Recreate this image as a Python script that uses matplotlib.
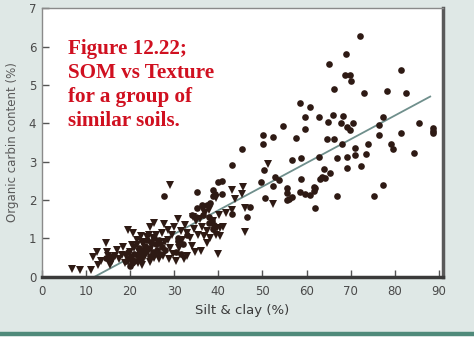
import matplotlib
matplotlib.use("Agg")
import matplotlib.pyplot as plt
from matplotlib.patches import Rectangle
from matplotlib.lines import Line2D

# Circles (finer-textured soils)
circle_x = [72.1, 69.0, 65.0, 68.8, 69.9, 70.1, 66.1, 73.0, 78.3, 81.4, 82.5,
            58.6, 60.7, 54.6, 59.7, 62.9, 59.7, 65.9, 68.2, 64.8, 67.8, 70.5, 69.1, 69.8,
            77.3, 76.5, 85.5, 88.7, 88.7, 88.7, 76.3, 81.4,
            50.2, 52.5, 50.2, 57.6, 64.7, 66.3, 68.0, 45.3, 71.0, 74.0, 79.1, 79.5,
            56.6, 58.7, 62.7, 67.0, 69.1, 71.0, 73.4, 84.3,
            50.4, 69.1, 72.3, 64.0, 65.2, 63.4, 63.1, 64.2, 52.9, 53.8, 49.6, 58.7, 52.5,
            55.6, 55.5, 56.6, 56.1, 55.5, 58.5, 59.6, 60.8, 61.7, 61.7, 61.9,
            50.6, 61.9, 67.0, 75.3, 77.3, 47.2, 46.6, 43.2, 43.0,
            27.7, 35.1, 40.0, 40.8, 38.9, 39.3, 40.8, 38.9, 38.1, 37.4, 36.2, 35.1,
            34.0, 35.0, 36.5, 37.8, 38.5, 39.0, 38.8, 37.9, 33.0, 30.8, 30.9,
            14.5, 15.5, 16.0, 19.0, 19.8, 20.5, 21.0, 21.8, 22.5, 20.0, 23.0, 23.5,
            24.2, 24.8, 25.2, 25.8, 26.2, 26.8, 27.2, 24.5, 22.0, 23.8, 25.5, 26.5,
            28.0, 30.5, 31.5, 32.0, 19.5, 21.0]
circle_y = [6.28, 5.82, 5.54, 5.25, 5.25, 5.11, 4.90, 4.78, 4.85, 5.38, 4.79,
            4.54, 4.42, 3.93, 4.17, 4.17, 3.86, 4.21, 4.19, 4.03, 4.00, 4.01, 3.91, 3.83,
            4.17, 3.97, 4.02, 3.87, 3.80, 3.74, 3.71, 3.76,
            3.70, 3.64, 3.46, 3.61, 3.59, 3.59, 3.45, 3.32, 3.37, 3.45, 3.45, 3.32,
            3.04, 3.09, 3.11, 3.09, 3.13, 3.17, 3.19, 3.23,
            2.78, 2.84, 2.89, 2.80, 2.71, 2.61, 2.54, 2.57, 2.59, 2.52, 2.48, 2.54, 2.37,
            2.31, 2.18, 2.09, 2.03, 2.00, 2.22, 2.15, 2.13, 2.33, 2.24, 2.31,
            2.05, 1.78, 2.10, 2.10, 2.39, 1.83, 1.55, 1.63, 2.91,
            2.10, 2.22, 2.48, 2.50, 2.26, 2.15, 2.17, 2.10, 1.93, 1.87, 1.87, 1.80,
            1.62, 1.55, 1.60, 1.55, 1.45, 1.35, 1.25, 1.40, 1.10, 1.00, 0.92,
            0.50, 0.45, 0.55, 0.40, 0.50, 0.35, 0.60, 0.55, 0.45, 0.28, 0.70, 0.80,
            0.75, 0.90, 0.65, 0.85, 0.70, 0.60, 0.78, 0.55, 0.75, 0.95, 1.00, 0.95,
            0.70, 0.65, 0.60, 0.85, 0.65, 0.42]

# Triangles (coarser-textured soils)
tri_x = [6.8, 8.7, 11.2, 11.7, 12.5, 14.5, 14.7, 12.7, 15.5, 19.6, 20.6, 24.5, 25.5,
         17.0, 18.5, 20.4, 18.1, 18.9, 20.4, 21.9, 23.0, 24.5, 22.7, 23.8, 22.7, 21.5,
         25.3, 26.4, 27.8, 28.7, 29.1, 51.3, 52.5, 45.5, 46.1, 40.0, 37.4, 43.0, 43.0,
         41.8, 43.8, 45.3, 46.1, 39.7, 40.4,
         28.5, 29.5, 30.0, 31.5, 32.5, 33.5, 34.0, 33.0, 31.0, 29.8, 28.8, 30.5, 32.2,
         34.8, 35.5, 36.2, 36.8, 37.5, 38.2, 38.8, 39.5, 40.5, 41.0, 36.0, 35.0, 34.2,
         36.5, 35.8, 37.0, 38.0, 40.2, 39.5, 34.5, 27.5, 26.5, 25.5, 27.0, 28.0, 29.0,
         26.0, 27.2, 23.0, 24.0, 22.0, 21.0, 20.0, 19.0, 17.5, 16.5, 16.0, 13.5, 15.0,
         20.5, 22.3, 23.5, 25.0, 26.0, 21.5, 22.5, 24.3, 31.8, 33.0, 30.8]
tri_y = [0.20, 0.17, 0.17, 0.52, 0.65, 0.87, 0.65, 0.30, 0.30, 1.22, 1.15, 1.30, 1.39,
         0.70, 0.78, 0.83, 0.57, 0.35, 0.39, 0.35, 0.48, 0.39, 0.30, 1.04, 0.91, 0.83,
         1.00, 0.91, 1.37, 1.22, 2.39, 2.94, 1.89, 2.33, 1.17, 0.59, 0.87, 2.26, 1.74,
         1.65, 2.04, 2.17, 1.78, 1.26, 1.26,
         0.95, 1.10, 1.30, 1.20, 1.35, 1.00, 0.80, 0.55, 0.75, 0.60, 0.45, 0.40, 0.45,
         0.65, 1.10, 1.30, 1.05, 1.20, 1.00, 1.45, 1.10, 1.05, 1.30, 0.68, 1.45, 1.55,
         1.75, 1.50, 1.65, 1.75, 1.60, 2.05, 1.25, 0.55, 0.45, 0.50, 0.80, 0.90, 0.75,
         1.10, 1.15, 0.85, 0.65, 0.65, 0.75, 0.65, 0.55, 0.45, 0.55, 0.40, 0.40, 0.55,
         0.50, 0.55, 0.55, 0.80, 0.60, 0.95, 1.05, 1.10, 0.95, 1.15, 1.50]

# Regression line end points
fit_x = [12.0, 88.0]
fit_y = [0.0, 4.7]

x_ticks = [0, 10, 20, 30, 40, 50, 60, 70, 80, 90]
y_ticks = [0, 1, 2, 3, 4, 5, 6, 7]

title_text = "Figure 12.22;\nSOM vs Texture\nfor a group of\nsimilar soils."

bg = "#dfe8e6"
fig = plt.figure(figsize=(4.74, 3.55), dpi=100, facecolor=bg)

# white band at the bottom with teal rule
fig.patches.append(Rectangle((0, 0), 1, 19 / 355, transform=fig.transFigure,
                             facecolor="white", edgecolor="none", zorder=0))
fig.lines.append(Line2D([0, 1], [21.5 / 355, 21.5 / 355], transform=fig.transFigure,
                        color="#4f8a7a", linewidth=3.2, zorder=1))

ax = fig.add_axes([41.7 / 474, 78.3 / 355, (443 - 41.7) / 474, (276.7 - 8.4) / 355])
ax.set_facecolor("white")
ax.set_xlim(0, 90.9)
ax.set_ylim(0, 7)

mcol = "#2e1a14"
ax.plot(fit_x, fit_y, color="#6f8f8c", linewidth=1.3, zorder=2)
ax.plot(tri_x, tri_y, linestyle="none", marker="v", markersize=5.4,
        color=mcol, markeredgewidth=0, zorder=3)
ax.plot(circle_x, circle_y, linestyle="none", marker="o", markersize=4.8,
        color=mcol, markeredgewidth=0, zorder=3)

ax.set_xticks(x_ticks)
ax.set_yticks(y_ticks)
tc = "#4a4a4a"
ax.tick_params(direction="in", length=5, width=1, colors="#555555",
               labelsize=8.5, labelcolor=tc)
ax.tick_params(axis="x", pad=6)
ax.tick_params(axis="y", pad=4)

for side in ["left", "top"]:
    ax.spines[side].set_color("#8a8a8a")
    ax.spines[side].set_linewidth(1.0)
ax.spines["bottom"].set_color("#3a3a3a")
ax.spines["bottom"].set_linewidth(2.5)
ax.spines["right"].set_color("#5a5a5a")
ax.spines["right"].set_linewidth(2.5)

ax.set_xlabel("Silt & clay (%)", fontsize=9.5, color="#3a3a3a", labelpad=4)
ax.set_ylabel("Organic carbin content (%)", fontsize=8.5, color="#5a5a5a", labelpad=7)

ax.text(68.3 / 474, 1 - 39 / 355, title_text, transform=fig.transFigure,
        ha="left", va="top", color="#d01020", fontsize=15.2, fontweight="bold",
        family="Liberation Serif", linespacing=1.26)

fig.savefig("out.png", dpi=100, facecolor=bg)
